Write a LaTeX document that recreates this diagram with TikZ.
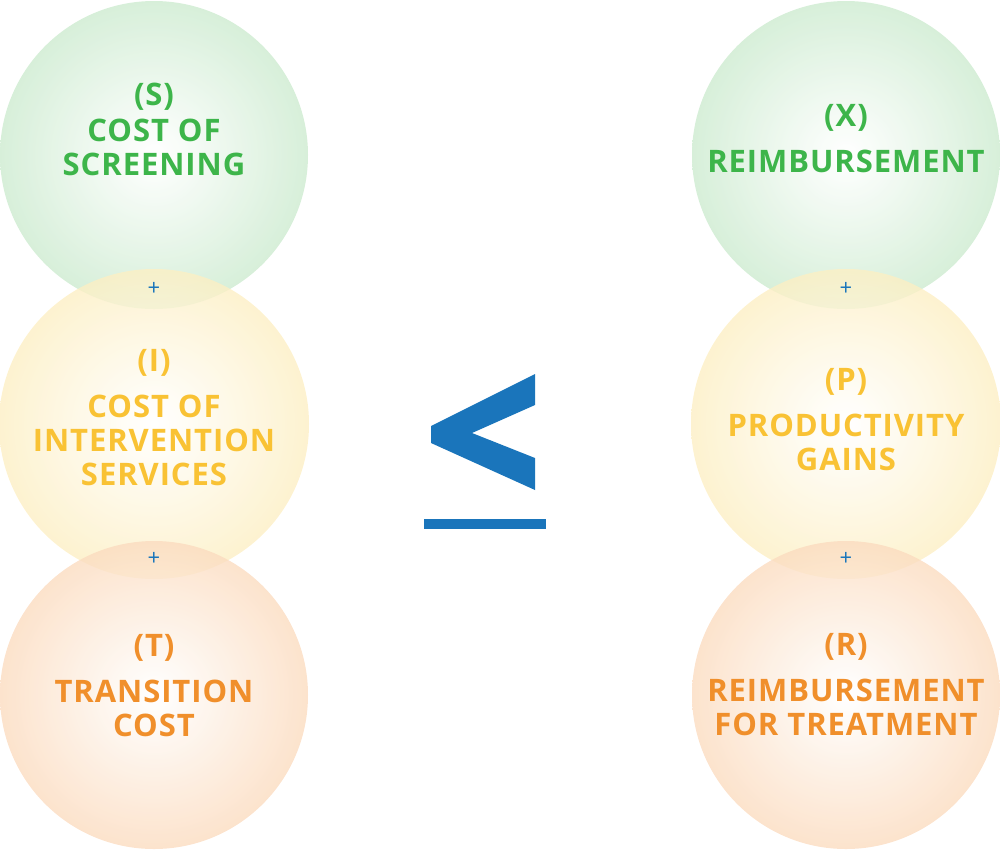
\documentclass[tikz,border=0pt]{standalone}
\usepackage{fontspec}
\setmainfont{Open Sans}[LetterSpace=3]
\begin{document}
\begin{tikzpicture}[x=1pt,y=-1pt]
\definecolor{gtext}{HTML}{3DB54A}
\definecolor{ytext}{HTML}{F9C234}
\definecolor{otext}{HTML}{F08F2B}
\definecolor{gcirc}{HTML}{CDEBD0}
\definecolor{ycirc}{HTML}{FDEFC4}
\definecolor{ocirc}{HTML}{FBDCC0}
\definecolor{sblue}{HTML}{1A75BB}
\tikzset{
 lab/.style={font=\fontsize{31}{34}\selectfont\bfseries,align=center},
 plus/.style={text=sblue,font=\fontsize{22}{22}\selectfont}
}
\useasboundingbox (0,0) rectangle (1000,849);
\foreach \x in {154,846}{
 \shade[inner color=white,outer color=gcirc,fill opacity=0.8] (\x,155) circle (154);
 \shade[inner color=white,outer color=ycirc,fill opacity=0.8] (\x,424) circle (155);
 \shade[inner color=white,outer color=ocirc,fill opacity=0.8] (\x,695) circle (154);
}
\node[lab,text=gtext] (s) at (154,129) {(S)\\[2pt]COST OF\\SCREENING};
\node[lab,text=ytext] (i) at (154,418) {(I)\\[12pt]COST OF\\INTERVENTION\\SERVICES};
\node[lab,text=otext] (t) at (154,686) {(T)\\[12pt]TRANSITION\\COST};
\node[lab,text=gtext] (x) at (846,139) {(X)\\[12pt]REIMBURSEMENT};
\node[lab,text=ytext] (p) at (846,420) {(P)\\[12pt]PRODUCTIVITY\\GAINS};
\node[lab,text=otext] (r) at (846,685) {(R)\\[12pt]REIMBURSEMENT\\FOR TREATMENT};
\node[plus] (p1) at (154,289) {+};
\node[plus] (p2) at (154,559) {+};
\node[plus] (p3) at (846,289) {+};
\node[plus] (p4) at (846,559) {+};
\fill[sblue] (535,374) -- (535,405) -- (472,433) -- (535,458) -- (535,490) -- (431,443) -- (431,426) -- cycle;
\fill[sblue] (424,519) rectangle (546,529);
\end{tikzpicture}
\end{document}
